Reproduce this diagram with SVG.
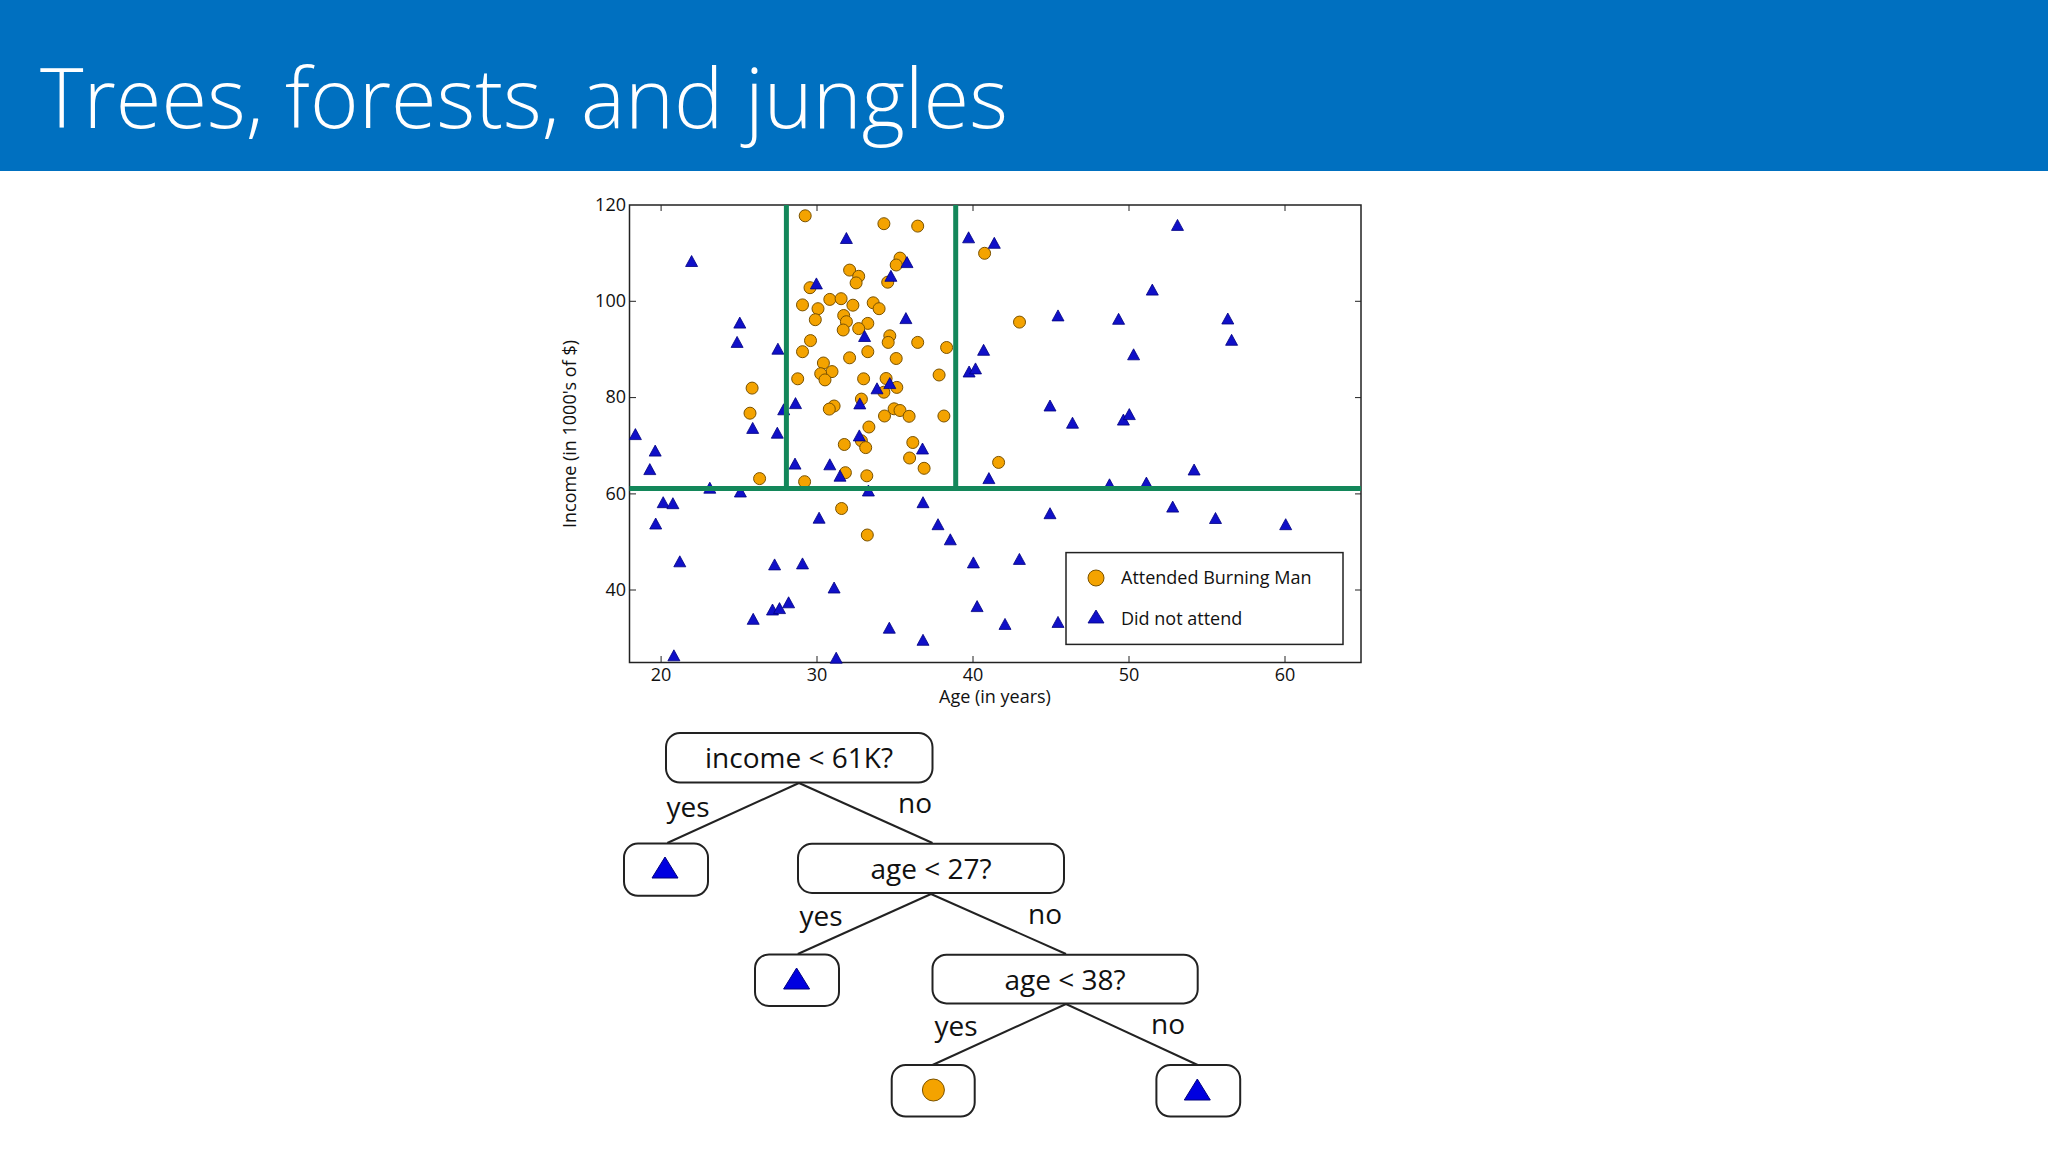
<svg xmlns="http://www.w3.org/2000/svg" xmlns:xlink="http://www.w3.org/1999/xlink" width="2048" height="1152" viewBox="0 0 2048 1152">
<style>
.t{font-family:"Open Sans","Liberation Sans",sans-serif;fill:#111}
.tk{font-family:"Open Sans","Liberation Sans",sans-serif;font-size:18px;fill:#111}
.box{fill:#fff;stroke:#222;stroke-width:2}
.edge{stroke:#222;stroke-width:2;fill:none}
.lbl{font-family:"Open Sans","Liberation Sans",sans-serif;font-size:28px;fill:#111;text-anchor:middle}
</style>
<defs>
<circle id="c" r="6" fill="#f4a300" stroke="#7a5200" stroke-width="1"/>
<polygon id="t" points="0,-6 6,5 -6,5" fill="#1010c8" stroke="#000080" stroke-width="0.8"/>
</defs>
<rect width="2048" height="1152" fill="#fff"/>
<rect width="2048" height="171" fill="#0070c0"/>
<text x="40" y="128" font-family="Open Sans, Liberation Sans, sans-serif" font-weight="300" font-size="83" fill="#fff">Trees, forests, and jungles</text>

<g id="plot">
<rect x="629.5" y="205" width="731.5" height="457.5" fill="#fff" stroke="#222" stroke-width="1.5"/>
<g stroke="#222" stroke-width="1">
<line x1="661.1" y1="662.5" x2="661.1" y2="656"/><line x1="817" y1="662.5" x2="817" y2="656"/><line x1="973" y1="662.5" x2="973" y2="656"/><line x1="1129" y1="662.5" x2="1129" y2="656"/><line x1="1285" y1="662.5" x2="1285" y2="656"/>
<line x1="661.1" y1="205" x2="661.1" y2="211"/><line x1="817" y1="205" x2="817" y2="211"/><line x1="973" y1="205" x2="973" y2="211"/><line x1="1129" y1="205" x2="1129" y2="211"/><line x1="1285" y1="205" x2="1285" y2="211"/>
<line x1="629.5" y1="301.3" x2="636" y2="301.3"/><line x1="629.5" y1="397.6" x2="636" y2="397.6"/><line x1="629.5" y1="493.9" x2="636" y2="493.9"/><line x1="629.5" y1="590" x2="636" y2="590"/>
<line x1="1361" y1="301.3" x2="1355" y2="301.3"/><line x1="1361" y1="397.6" x2="1355" y2="397.6"/><line x1="1361" y1="493.9" x2="1355" y2="493.9"/><line x1="1361" y1="590" x2="1355" y2="590"/>
</g>
<g class="tk" text-anchor="middle">
<text x="661.1" y="681">20</text><text x="817" y="681">30</text><text x="973" y="681">40</text><text x="1129" y="681">50</text><text x="1285" y="681">60</text>
</g>
<g class="tk" text-anchor="end">
<text x="626" y="211">120</text><text x="626" y="307">100</text><text x="626" y="403">80</text><text x="626" y="500">60</text><text x="626" y="596">40</text>
</g>
<text class="tk" x="995" y="703" text-anchor="middle">Age (in years)</text>
<text class="tk" x="0" y="0" text-anchor="middle" transform="translate(576 434) rotate(-90)">Income (in 1000's of $)</text>

<g>
<use href="#c" x="805.2" y="215.8"/><use href="#c" x="883.9" y="223.7"/><use href="#c" x="917.7" y="226.1"/><use href="#c" x="900" y="258.1"/><use href="#c" x="896.2" y="265"/><use href="#c" x="984.6" y="253.3"/><use href="#c" x="849.6" y="270.1"/><use href="#c" x="858.7" y="276.3"/><use href="#c" x="856.1" y="282.9"/><use href="#c" x="887.7" y="282.2"/><use href="#c" x="810" y="287.7"/><use href="#c" x="829.8" y="299.4"/><use href="#c" x="841.1" y="298.7"/><use href="#c" x="802.5" y="304.9"/><use href="#c" x="852.9" y="305.2"/><use href="#c" x="873.2" y="302.8"/><use href="#c" x="818" y="308.7"/><use href="#c" x="879.1" y="308.7"/><use href="#c" x="815.3" y="319.7"/><use href="#c" x="843.7" y="315.5"/><use href="#c" x="846.4" y="321.7"/><use href="#c" x="867.8" y="323.4"/><use href="#c" x="858.7" y="328.6"/><use href="#c" x="843.2" y="330"/><use href="#c" x="889.8" y="335.8"/><use href="#c" x="810.5" y="340.6"/><use href="#c" x="888.2" y="342.4"/><use href="#c" x="917.7" y="342.4"/><use href="#c" x="946.6" y="347.5"/><use href="#c" x="1019.5" y="322.1"/><use href="#c" x="802.5" y="351.7"/><use href="#c" x="867.8" y="351.7"/><use href="#c" x="849.6" y="357.8"/><use href="#c" x="896.2" y="358.5"/><use href="#c" x="823.4" y="363"/><use href="#c" x="832" y="371.6"/><use href="#c" x="820.7" y="373.7"/><use href="#c" x="825" y="379.9"/><use href="#c" x="863.6" y="378.8"/><use href="#c" x="886.1" y="378.5"/><use href="#c" x="797.7" y="378.8"/><use href="#c" x="939.1" y="375"/><use href="#c" x="896.8" y="387.4"/><use href="#c" x="752.1" y="388.1"/><use href="#c" x="861.4" y="399.1"/><use href="#c" x="883.9" y="392.2"/><use href="#c" x="834.1" y="406"/><use href="#c" x="829.3" y="409.1"/><use href="#c" x="894.1" y="408.8"/><use href="#c" x="900" y="410.5"/><use href="#c" x="750" y="413.2"/><use href="#c" x="884.5" y="416"/><use href="#c" x="909.1" y="416.3"/><use href="#c" x="943.9" y="416"/><use href="#c" x="868.9" y="427"/><use href="#c" x="844.3" y="444.5"/><use href="#c" x="861.4" y="440.8"/><use href="#c" x="865.7" y="447.6"/><use href="#c" x="912.8" y="442.5"/><use href="#c" x="909.6" y="458"/><use href="#c" x="924.1" y="468.3"/><use href="#c" x="998.6" y="462.4"/><use href="#c" x="845.4" y="472.7"/><use href="#c" x="866.8" y="475.8"/><use href="#c" x="759.6" y="478.6"/><use href="#c" x="804.6" y="481.7"/><use href="#c" x="841.6" y="508.5"/><use href="#c" x="867.3" y="535"/>
</g>
<g>
<use href="#t" x="691.6" y="261.5"/><use href="#t" x="846.4" y="238.5"/><use href="#t" x="907" y="262.6"/><use href="#t" x="890.9" y="276.3"/><use href="#t" x="816.4" y="283.9"/><use href="#t" x="968.6" y="237.8"/><use href="#t" x="994.3" y="243.3"/><use href="#t" x="1177.5" y="225.4"/><use href="#t" x="1152.3" y="290.1"/><use href="#t" x="739.8" y="323.1"/><use href="#t" x="737.1" y="342.4"/><use href="#t" x="777.9" y="349.2"/><use href="#t" x="905.9" y="318.6"/><use href="#t" x="864.6" y="336.5"/><use href="#t" x="1058" y="315.9"/><use href="#t" x="1118.6" y="319.3"/><use href="#t" x="1227.8" y="319"/><use href="#t" x="1231.6" y="340.3"/><use href="#t" x="983.6" y="350.3"/><use href="#t" x="1133.6" y="354.8"/><use href="#t" x="969.1" y="372"/><use href="#t" x="975.5" y="368.9"/><use href="#t" x="877" y="388.8"/><use href="#t" x="889.8" y="383.6"/><use href="#t" x="795.5" y="403.6"/><use href="#t" x="783.7" y="409.8"/><use href="#t" x="859.8" y="403.9"/><use href="#t" x="1050" y="406"/><use href="#t" x="1072.5" y="423.2"/><use href="#t" x="1123.4" y="420.1"/><use href="#t" x="1129.3" y="414.6"/><use href="#t" x="635.4" y="434.6"/><use href="#t" x="752.7" y="428.4"/><use href="#t" x="777.3" y="433.2"/><use href="#t" x="859.3" y="435.9"/><use href="#t" x="655.2" y="451.1"/><use href="#t" x="649.8" y="469.6"/><use href="#t" x="922.5" y="449"/><use href="#t" x="795" y="464.1"/><use href="#t" x="829.8" y="464.8"/><use href="#t" x="840" y="476.2"/><use href="#t" x="988.9" y="478.6"/><use href="#t" x="1194.1" y="470"/><use href="#t" x="709.8" y="488.2"/><use href="#t" x="740.4" y="492"/><use href="#t" x="868.4" y="491"/><use href="#t" x="1109.5" y="484.8"/><use href="#t" x="1146.4" y="483.1"/><use href="#t" x="663.2" y="502.7"/><use href="#t" x="672.9" y="503.7"/><use href="#t" x="655.7" y="524"/><use href="#t" x="923" y="502.7"/><use href="#t" x="819.1" y="518.2"/><use href="#t" x="938" y="524.7"/><use href="#t" x="950.3" y="539.8"/><use href="#t" x="1050" y="513.7"/><use href="#t" x="1172.7" y="507.1"/><use href="#t" x="1215.5" y="518.5"/><use href="#t" x="1285.7" y="524.7"/><use href="#t" x="679.8" y="561.8"/><use href="#t" x="774.6" y="564.9"/><use href="#t" x="802.5" y="563.9"/><use href="#t" x="973.4" y="562.9"/><use href="#t" x="1019.4" y="559.4"/><use href="#t" x="834.1" y="588"/><use href="#t" x="788.6" y="602.8"/><use href="#t" x="772.5" y="610"/><use href="#t" x="779.5" y="608.6"/><use href="#t" x="977.1" y="606.6"/><use href="#t" x="753.2" y="619.3"/><use href="#t" x="1005" y="624.4"/><use href="#t" x="1058" y="622.4"/><use href="#t" x="889.3" y="628.2"/><use href="#t" x="923" y="640.3"/><use href="#t" x="673.9" y="655.8"/><use href="#t" x="836.2" y="658.2"/>
</g>
<g stroke="#13875a" stroke-width="5" fill="none">
<line x1="786.4" y1="205" x2="786.4" y2="488.6"/>
<line x1="955.7" y1="205" x2="955.7" y2="488.6"/>
<line x1="629.5" y1="488.6" x2="1361" y2="488.6"/>
</g>
<g id="legend">
<rect x="1066" y="552.6" width="277" height="91.8" fill="#fff" stroke="#222" stroke-width="1.5"/>
<circle cx="1096" cy="578" r="8" fill="#f4a300" stroke="#7a5200"/>
<polygon points="1096,610 1104,623 1088,623" fill="#1010c8" stroke="#000080" stroke-width="0.8"/>
<text class="tk" x="1121" y="584">Attended Burning Man</text>
<text class="tk" x="1121" y="625">Did not attend</text>
</g>
</g>

<g id="connectors">
<line class="edge" x1="799" y1="783" x2="667.3" y2="843"/>
<line class="edge" x1="799" y1="783" x2="932.5" y2="843"/>
<line class="edge" x1="931" y1="894" x2="797.8" y2="954"/>
<line class="edge" x1="931" y1="894" x2="1066" y2="954"/>
<line class="edge" x1="1066" y1="1004" x2="932.5" y2="1065"/>
<line class="edge" x1="1066" y1="1004" x2="1197.7" y2="1065"/>
<text class="lbl" x="688" y="817">yes</text>
<text class="lbl" x="915" y="813">no</text>
<text class="lbl" x="821" y="926">yes</text>
<text class="lbl" x="1045" y="924">no</text>
<text class="lbl" x="956" y="1036">yes</text>
<text class="lbl" x="1168" y="1034">no</text>
</g>
<g id="n_root"><rect class="box" x="666" y="733" width="266.5" height="49.6" rx="14"/><text class="lbl" x="799" y="768">income &lt; 61K?</text></g>
<g id="n_leaf1"><rect class="box" x="624" y="843.5" width="84" height="52.3" rx="14"/><polygon points="665,857 678,878 652,878" fill="#0000e0" stroke="#000080"/></g>
<g id="n_age27"><rect class="box" x="798" y="843.8" width="266" height="49.2" rx="14"/><text class="lbl" x="931" y="879">age &lt; 27?</text></g>
<g id="n_leaf2"><rect class="box" x="755" y="954.4" width="84" height="51.6" rx="14"/><polygon points="796.6,968 809.6,989 783.6,989" fill="#0000e0" stroke="#000080"/></g>
<g id="n_age38"><rect class="box" x="932.5" y="954.7" width="265.2" height="48.7" rx="14"/><text class="lbl" x="1065" y="990">age &lt; 38?</text></g>
<g id="n_leaf3"><rect class="box" x="891.7" y="1065" width="83" height="51.6" rx="14"/><circle cx="933.4" cy="1090" r="11" fill="#f4a300" stroke="#7a5200"/></g>
<g id="n_leaf4"><rect class="box" x="1156.4" y="1065" width="83.8" height="51.6" rx="14"/><polygon points="1197.3,1079 1210.3,1100 1184.3,1100" fill="#0000e0" stroke="#000080"/></g>
</svg>
